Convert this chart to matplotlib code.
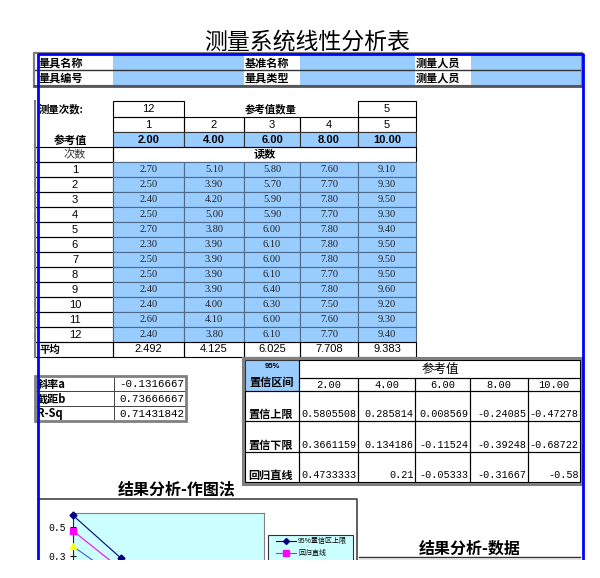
import numpy as np
import matplotlib
matplotlib.use('Agg')
import matplotlib.pyplot as plt
from matplotlib.patches import Rectangle

plt.rcParams['font.family'] = ['Noto Sans CJK SC', 'DejaVu Sans']

# ---- data ----
ref_values = [2.00, 4.00, 6.00, 8.00, 10.00]
ref_index = [1, 2, 3, 4, 5]
trial_no = list(range(1, 13))
read_ref1 = [2.70, 2.50, 2.40, 2.50, 2.70, 2.30, 2.50, 2.50, 2.40, 2.40, 2.60, 2.40]
read_ref2 = [5.10, 3.90, 4.20, 5.00, 3.80, 3.90, 3.90, 3.90, 3.90, 4.00, 4.10, 3.80]
read_ref3 = [5.80, 5.70, 5.90, 5.90, 6.00, 6.10, 6.00, 6.10, 6.40, 6.30, 6.00, 6.10]
read_ref4 = [7.60, 7.70, 7.80, 7.70, 7.80, 7.80, 7.80, 7.70, 7.80, 7.50, 7.60, 7.70]
read_ref5 = [9.10, 9.30, 9.50, 9.30, 9.40, 9.50, 9.50, 9.50, 9.60, 9.20, 9.30, 9.40]
readings = [read_ref1, read_ref2, read_ref3, read_ref4, read_ref5]

stat_labels = ['斜率a', '截距b', 'R-Sq']
stat_values = [-0.1316667, 0.73666667, 0.71431842]

ci_row_labels = ['置信上限', '置信下限', '回归直线']
ci_upper = [0.5805508, 0.285814, 0.008569, -0.24085, -0.47278]
ci_lower = [0.3661159, 0.134186, -0.11524, -0.39248, -0.68722]
regression = [0.4733333, 0.21, -0.05333, -0.31667, -0.58]

header_labels = ['量具名称', '基准名称', '测量人员', '量具编号', '量具类型', '测量人员']

BLUE = '#99CCFF'
GRID = '#4F6A88'
GREY = '#808080'

fig = plt.figure(figsize=(6, 5.78), dpi=100)
ax = fig.add_axes([0, 0, 1, 1])
ax.set_xlim(0, 600)
ax.set_ylim(578, 0)
ax.axis('off')


def cell(x0, y0, x1, y1, fc='none', ec='black', lw=0.8, z=1):
    ax.add_patch(Rectangle((x0, y0), x1 - x0, y1 - y0, facecolor=fc,
                           edgecolor=ec, linewidth=lw, zorder=z))


def txt(x, y, s, size=8, ha='center', va='center', bold=False, family=None, **kw):
    kws = dict(fontsize=size, ha=ha, va=va, zorder=5,
               fontweight='bold' if bold else 'normal')
    if family:
        kws['family'] = family
    kws.update(kw)
    ax.text(x, y, s, **kws)


SANS = ['Liberation Sans', 'Noto Sans CJK SC']
SERIF = ['Liberation Serif', 'Noto Sans CJK SC']
MONO = ['Liberation Mono', 'Noto Sans CJK SC']

# title
txt(307, 42, '测量系统线性分析表', size=16.5)

# header block
hx = [38, 113, 244, 300, 415, 471, 582]
for r, (y0, y1) in enumerate([(55, 70), (70, 86)]):
    for c in range(3):
        cell(hx[2 * c], y0, hx[2 * c + 1], y1, fc='white', ec='none')
        cell(hx[2 * c + 1], y0, hx[2 * c + 2], y1, fc=BLUE, ec='none')
        txt(hx[2 * c] + 1, (y0 + y1) / 2 + 0.5, header_labels[r * 3 + c],
            size=8, ha='left', bold=True)
ax.plot([34, 582], [70, 70], color='#333333', lw=1, zorder=3)
ax.add_patch(Rectangle((34, 53), 548, 33, fill=False, edgecolor=GREY, lw=1.6, zorder=3))
ax.plot([34, 582], [86, 86], color='#555555', lw=2, zorder=3)

# readings table
cx = [113, 184, 244, 300, 358, 416]
mids = [(cx[i] + cx[i + 1]) / 2 for i in range(5)]

txt(39, 109, '测量次数:', size=7.5, ha='left', bold=True)
cell(113, 101, 184, 117)
txt(mids[0], 109, str(len(trial_no)), size=8, family=SANS)
txt((184 + 358) / 2, 109, '参考值数量', size=7.5, bold=True)
cell(358, 101, 416, 117)
txt(mids[4], 109, str(len(ref_values)), size=8, family=SANS)

for i in range(5):
    cell(cx[i], 117, cx[i + 1], 132)
    txt(mids[i], 124.5, str(ref_index[i]), size=8, family=SANS)
    cell(cx[i], 132, cx[i + 1], 147, fc=BLUE, ec='#333333')
    txt(mids[i], 140, f'{ref_values[i]:.2f}', size=8, bold=True, family=SANS)
txt(70, 140, '参考值', size=8, bold=True)

cell(35, 147, 113, 162)
txt(75, 154.5, '次数', size=8, color='#333333')
cell(113, 147, 416, 162)
txt(265, 154.5, '读数', size=8, bold=True)

row_h = 15
for r, n in enumerate(trial_no):
    y0 = 162 + r * row_h
    cell(35, y0, 113, y0 + row_h)
    txt(75, y0 + 8, str(n), size=8, family=SANS)
    for i in range(5):
        cell(cx[i], y0, cx[i + 1], y0 + row_h, fc=BLUE, ec=GRID)
        txt(mids[i], y0 + 7.5, f'{readings[i][r]:.2f}', size=7.5, family=SERIF,
            color='#222222')

y0 = 162 + 12 * row_h
cell(35, y0, 113, y0 + row_h)
txt(39, y0 + 7.5, '平均', size=7.5, ha='left', bold=True)
for i in range(5):
    cell(cx[i], y0, cx[i + 1], y0 + row_h)
    txt(mids[i], y0 + 7.5, f'{np.mean(readings[i]):.3f}', size=8, family=SANS)
ax.plot([35, 35], [101, y0 + row_h], color=GREY, lw=1.5, zorder=3)

# slope / intercept / R-sq box
for k, (lab, val) in enumerate(zip(stat_labels, stat_values)):
    sy = 376 + k * 15
    cell(35, sy, 114, sy + 15, ec='#444444', lw=0.6)
    cell(114, sy, 186, sy + 15, ec='#444444', lw=0.6)
    txt(37, sy + 8, lab, size=8, ha='left', bold=True)
    txt(184, sy + 8, str(val), size=7.8, ha='right', family=MONO)
ax.add_patch(Rectangle((35, 376), 151, 45, fill=False, edgecolor=GREY, lw=2, zorder=3))

# confidence interval table
kx = [245, 299, 358, 415, 470, 528, 580]
cell(245, 360, 299, 391, fc=BLUE, ec='#333333')
txt(272, 366, '95%', size=5.5, bold=True, family=SANS)
txt(272, 382, '置信区间', size=8, bold=True)
cell(299, 360, 580, 378)
txt(440, 369, '参考值', size=9)
for i in range(5):
    cell(kx[i + 1], 378, kx[i + 2], 391)
    txt((kx[i + 1] + kx[i + 2]) / 2, 385, f'{ref_values[i]:.2f}', size=7.5, family=MONO)
ci_rows = [ci_upper, ci_lower, regression]
ci_y = [391, 421, 452, 482]
for r in range(3):
    cell(245, ci_y[r], 299, ci_y[r + 1])
    txt(248, ci_y[r + 1] - 7, ci_row_labels[r], size=8, ha='left', bold=True)
    for i in range(5):
        cell(kx[i + 1], ci_y[r], kx[i + 2], ci_y[r + 1])
        txt(kx[i + 2] - 1.5, ci_y[r + 1] - 7, str(ci_rows[r][i]), size=7.3,
            ha='right', family=MONO)
ax.add_patch(Rectangle((243, 358), 339, 126, fill=False, edgecolor=GREY, lw=2.2, zorder=3))

# section titles
txt(177, 489, '结果分析-作图法', size=11.5, bold=True)
txt(470, 549, '结果分析-数据', size=11.5, bold=True)
ax.plot([359, 580], [557, 557], color='#333333', lw=1, zorder=3)
ax.plot([359, 580], [559.5, 559.5], color='#777777', lw=1, zorder=3)

# chart frame
ax.plot([38, 357, 357], [499, 499, 570], color='#444444', lw=1.2, zorder=3)

# blue outer frame
ax.plot([38, 38, 583, 583], [570, 54, 54, 570], color='#0000FF', lw=2, zorder=6)

# legend (drawn by hand, partly cut off)
cell(268, 535, 353, 575, fc='#CCFFFF', ec='#333333', lw=0.8, z=4)
leg = [('95%置信区上限', '#000080', 'D', '#000080', 3),
       ('回归直线', '#FF00FF', 's', '#FF00FF', 4.5)]
for k, (lab, col, mk, mfc, ms) in enumerate(leg):
    ly = 541 + k * 12
    ax.plot([276, 296], [ly, ly], color=col, lw=0.8, zorder=5)
    ax.plot([286], [ly], marker=mk, color=mfc, ms=ms, zorder=5, lw=0)
    txt(298, ly, lab, size=5, ha='left')

# chart
cax = fig.add_axes([73 / 600, (578 - 560) / 578, (264 - 73) / 600, (560 - 513) / 578])
cax.set_facecolor('#CCFFFF')
xs = np.arange(len(ref_values))
cax.plot(xs, ci_upper, color='#000080', lw=0.8, marker='D', ms=3.5, clip_on=False, zorder=5)
cax.plot(xs, regression, color='#FF00FF', lw=0.8, marker='s', ms=5, clip_on=False, zorder=5)
cax.plot(xs, ci_lower, color='#3A5BE0', lw=0.8, marker='^', ms=5, mfc='#FFFF00',
         mec='#FFFF00', clip_on=False, zorder=5)
cax.set_xlim(0, 4)
cax.set_ylim(0.272, 0.597)
cax.set_yticks([0.3, 0.5])
cax.set_yticklabels(['0.3', '0.5'], family=MONO, fontsize=7)
cax.set_xticks([])
cax.tick_params(axis='y', direction='inout', length=4, width=0.8, pad=3)
for s in ['top', 'right']:
    cax.spines[s].set_color(GREY)
cax.spines['bottom'].set_visible(False)
cax.spines['left'].set_color('#222222')

# the screenshot ends here
fig.add_artist(Rectangle((0, 0), 1, 18 / 578, transform=fig.transFigure,
                         facecolor='white', edgecolor='none', zorder=20))

fig.savefig('out.png', dpi=100)
